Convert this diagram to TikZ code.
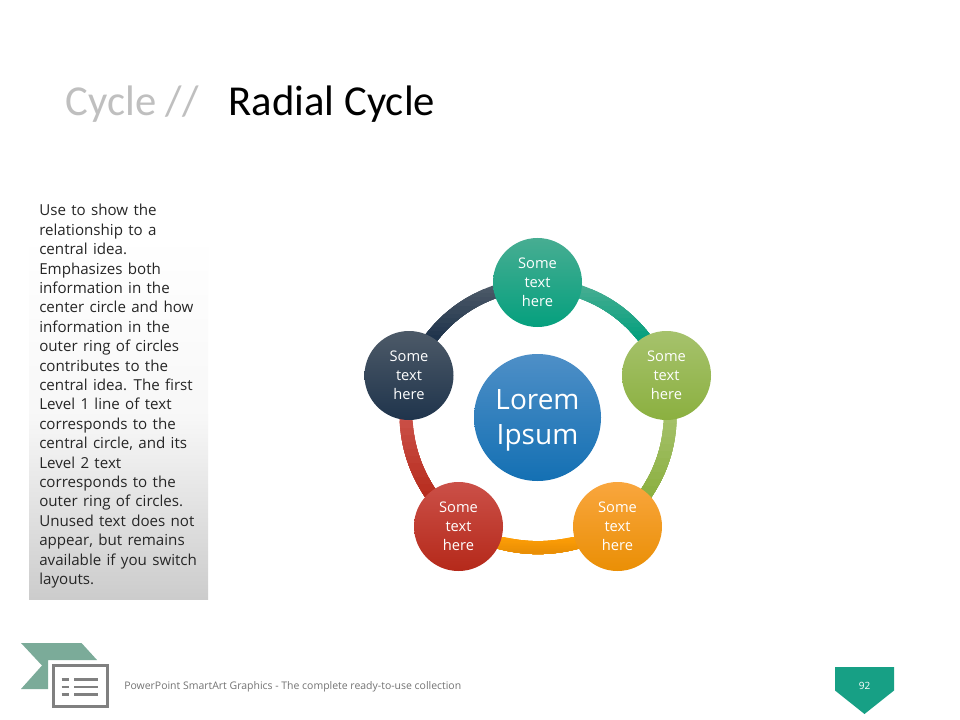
\documentclass[tikz,border=0pt]{standalone}
\usepackage{fontspec}
\setmainfont{Open Sans}
\newfontfamily\titlefont{Carlito}
\newfontfamily\bodyfont[WordSpace=1.35]{Open Sans}
\definecolor{tealA}{HTML}{47AD92}
\definecolor{tealM}{HTML}{12A586}
\definecolor{tealB}{HTML}{05A07E}
\definecolor{greenA}{HTML}{A6C26C}
\definecolor{greenM}{HTML}{9BBB57}
\definecolor{greenB}{HTML}{8BB040}
\definecolor{orangeA}{HTML}{F9A63E}
\definecolor{orangeB}{HTML}{EA8F05}
\definecolor{orangeM}{HTML}{FF9F06}
\definecolor{redA}{HTML}{CB5048}
\definecolor{redM}{HTML}{C33223}
\definecolor{redB}{HTML}{B5291A}
\definecolor{navyA}{HTML}{4D5A68}
\definecolor{navyM}{HTML}{2A3F55}
\definecolor{navyB}{HTML}{1F344C}
\definecolor{blueA}{HTML}{4E8FC7}
\definecolor{blueM}{HTML}{2480C0}
\definecolor{blueB}{HTML}{1470B3}
\definecolor{pageteal}{HTML}{17A085}
\definecolor{chev}{HTML}{7BAB99}
\tikzset{
  x=0.75pt,y=-0.75pt,
  ball/.style n args={3}{circle,minimum size=66.75pt,inner sep=0pt,top color=#1,middle color=#2,bottom color=#3,
     text=white,align=center,font=\fontsize{11}{14.4}\selectfont},
  hub/.style={circle,minimum size=95.25pt,inner sep=0pt,top color=blueA,middle color=blueM,bottom color=blueB,
     text=white,align=center,font=\fontsize{21}{26.5}\selectfont},
  listline/.style={line width=2pt,draw=black!50},
}
% gradient stroke: arc from node to node, overpainted band by band
\newcommand{\gradarc}[7]{% from, to, bend, ytop, ybottom, colour top, colour bottom
  \foreach \k in {0,...,12}{
    \pgfmathsetmacro{\yy}{#4+(#5-#4)*\k/13}
    \pgfmathsetmacro{\pct}{100-\k*100/12}
    \begin{scope}
      \clip (300,\yy) rectangle (800,600);
      \draw[line width=9.75pt,color=#6!\pct!#7] (#1.center) to[bend left=#3] (#2.center);
    \end{scope}
  }
}
\begin{document}
\begin{tikzpicture}
\useasboundingbox (0,0) rectangle (960,720);
\fill[white] (0,0) rectangle (960,720);
% title
\node[anchor=base west,inner sep=0pt,text=black!25,font=\titlefont\fontsize{32}{38}\selectfont] (t1) at (65.5,116) {Cycle //};
\node[anchor=base west,inner sep=0pt,text=black,font=\titlefont\fontsize{32}{38}\selectfont] (t2) at (228.5,116) {Radial Cycle};
% panel
\shade[top color=white,bottom color=black!20,middle color=black!3] (29,235) rectangle (208,599);
\node[anchor=north west,inner sep=0pt,text=black!85,align=left,font=\bodyfont\fontsize{11.35}{14.55}\selectfont] (body) at (39,204.2)
{Use to show the\\relationship to a\\central idea.\\Emphasizes both\\information in the\\center circle and how\\information in the\\outer ring of circles\\contributes to the\\central idea. The first\\Level 1 line of text\\corresponds to the\\central circle, and its\\Level 2 text\\corresponds to the\\outer ring of circles.\\Unused text does not\\appear, but remains\\available if you switch\\layouts.};
% anchors for arcs
\coordinate (na) at (537.5,282.5);
\coordinate (nb) at (666.5,375.5);
\coordinate (nc) at (617.5,526.5);
\coordinate (nd) at (458.5,526.5);
\coordinate (ne) at (409,375.5);
\gradarc{na}{nb}{30}{285}{340}{tealA}{tealB}
\gradarc{nb}{nc}{29}{410}{500}{greenA}{greenB}
\gradarc{nc}{nd}{27}{537}{553}{orangeM}{orangeB}
\gradarc{nd}{ne}{28}{415}{505}{redA}{redB}
\gradarc{ne}{na}{30}{285}{340}{navyA}{navyB}
% circles
\node[ball={tealA}{tealM}{tealB}] (a) at (na) {Some\\text\\here};
\node[ball={greenA}{greenM}{greenB}] (b) at (nb) {Some\\text\\here};
\node[ball={orangeA}{orangeM}{orangeB}] (c) at (nc) {Some\\text\\here};
\node[ball={redA}{redM}{redB}] (d) at (nd) {Some\\text\\here};
\node[ball={navyA}{navyM}{navyB}] (e) at (ne) {Some\\text\\here};
\node[hub] (h) at (537.5,417.5) {\rule{0pt}{19.5pt}Lorem\\Ipsum};
% footer
\fill[chev] (21,643) -- (81.5,643) -- (97,660) -- (48,660) -- (48,689) -- (21,689) -- (42,665.5) -- cycle;
\draw[line width=2pt,draw=black!50,fill=white] (53.3,665.3) rectangle (107.7,706.7);
\foreach \yy in {679.5,687,694.5}{
  \draw[listline] (61.5,\yy) -- (69,\yy);
  \draw[listline] (74,\yy) -- (98,\yy);
}
\node[anchor=base west,inner sep=0pt,text=black!55,font=\fontsize{7.85}{9}\selectfont] (foot) at (124,689.5) {PowerPoint SmartArt Graphics - The complete ready-to-use collection};
\fill[pageteal] (835,667) -- (894,667) -- (894,690.5) -- (864.5,714) -- (835,690.5) -- cycle;
\node[text=white,inner sep=0pt,font=\fontsize{7.5}{9}\selectfont] (pg) at (864.5,686) {92};
\end{tikzpicture}
\end{document}
